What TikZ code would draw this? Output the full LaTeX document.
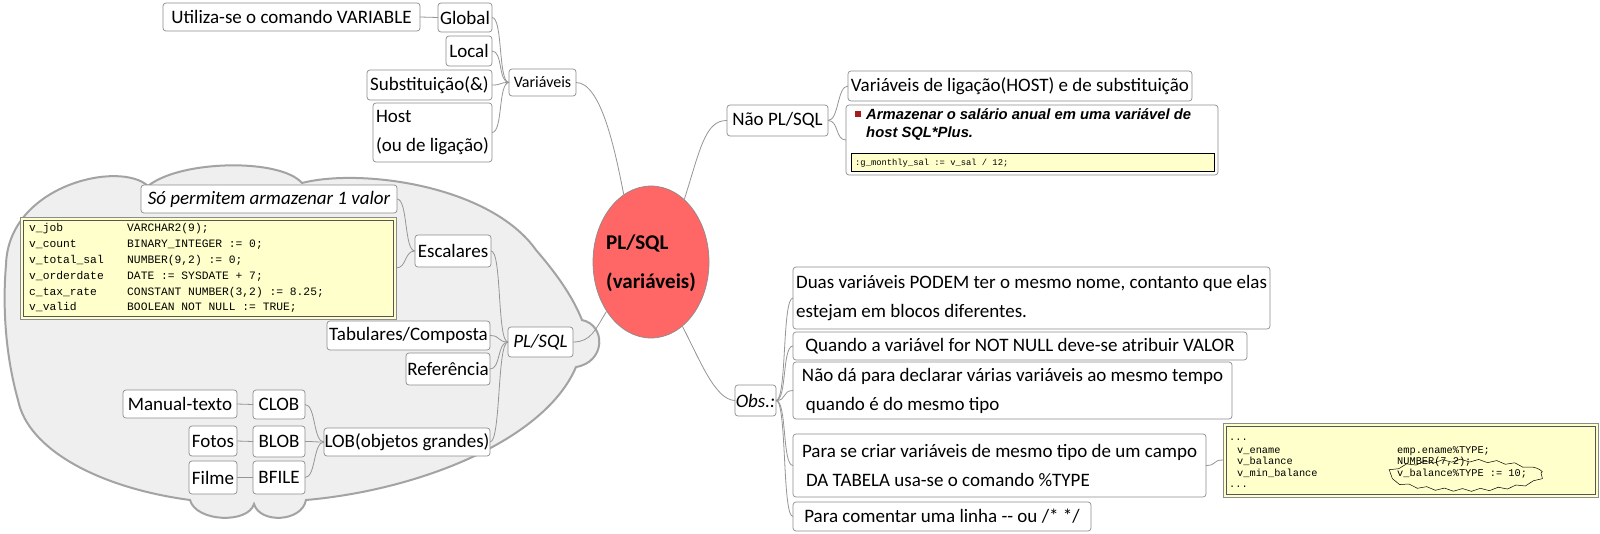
\documentclass[tikz,border=0pt]{standalone}
\usepackage{fontspec}
\usetikzlibrary{shapes.geometric,decorations.pathmorphing}
\newfontfamily\hwf{Carlito}
\newfontfamily\arf{Liberation Sans}
\newfontfamily\monof{Liberation Mono}
\definecolor{bgray}{HTML}{8C8C8C}
\definecolor{lgray}{HTML}{959595}
\definecolor{cloudfill}{HTML}{EFEFEF}
\definecolor{cloudline}{HTML}{A3A3A3}
\definecolor{codey}{HTML}{FFFFCC}
\definecolor{redc}{HTML}{FF6666}
\definecolor{bulletred}{HTML}{A51C1C}
\definecolor{innerline}{HTML}{555555}
\newcommand\hwn{\hwf\fontsize{19}{29}\selectfont}
\newcommand\hwi{\hwf\itshape\fontsize{19}{29}\selectfont}
\tikzset{
 box/.style={draw=bgray, fill=white, rounded corners=3pt, line width=0.7pt, inner sep=0pt, outer sep=0pt, font=\hwn, text=black},
 conn/.style={draw=lgray, line width=0.8pt},
 codebox/.style={draw=bgray, fill=codey, line width=0.7pt, inner sep=0pt, outer sep=0pt, anchor=north west},
 mono/.style={font=\monof\fontsize{11.3}{16}\selectfont, inner sep=0pt, anchor=base west},
 monos/.style={font=\monof\fontsize{10.3}{12}\selectfont, inner sep=0pt, anchor=base west},
}
\newcommand\BX[7][]{\node[box, minimum width={#5-#3}, minimum height={#6-#4}, anchor=north west, #1] (#2) at (#3,#4) {#7};}
\newcommand\LL[2]{\draw[conn] (#1.west) .. controls +(-11,0) and +(11,0) .. (#2.east);}
\newcommand\RL[2]{\draw[conn] (#1.east) .. controls +(11,0) and +(-11,0) .. (#2.west);}
\begin{document}
\begin{tikzpicture}[x=1pt,y=-1pt]
\fill[white] (0,0) rectangle (1600,533);
\useasboundingbox (0,0) rectangle (1600,533);

% cloud
\filldraw[fill=cloudfill, draw=cloudline, line width=2pt]
 (6,265) .. controls (8,185) and (120,160) .. (148,186)
 .. controls (180,160) and (280,158) .. (302,183)
 .. controls (360,168) and (490,185) .. (536,250)
 .. controls (555,272) and (572,295) .. (582,320)
 .. controls (606,325) and (606,362) .. (576,367)
 .. controls (545,440) and (420,490) .. (306,500)
 .. controls (302,522) and (260,524) .. (254,504)
 .. controls (248,524) and (196,522) .. (190,500)
 .. controls (100,488) and (28,450) .. (18,400)
 .. controls (4,350) and (3,300) .. cycle;

% central ellipse
\node[ellipse, draw=bgray, fill=redc, line width=0.7pt, minimum width=116, minimum height=152, inner sep=0pt] (center) at (651,262) {};
\node[font=\hwf\bfseries\fontsize{21}{39}\selectfont, align=left, inner sep=0pt] (centertxt) at (651,263) {PL/SQL\\(variáveis)};

% top-left branch
\BX{utiliza}{163}{3}{420}{31}{Utiliza-se o comando VARIABLE}
\BX{global}{438}{3}{492}{32}{Global}
\BX{local}{446}{36}{492}{66}{Local}
\BX{subst}{367}{70}{492}{100}{Substituição(\&)}
\BX[align=left]{host}{373}{103}{492}{162}{Host\\(ou de ligação)}
\BX[font=\hwf\fontsize{16}{20}\selectfont]{variaveis}{509}{69}{576}{96}{Variáveis}

% cloud contents
\BX[font=\hwi]{so}{141}{185}{397}{213}{Só permitem armazenar 1 valor}
\node[codebox, minimum width=376, minimum height=102] (codeL) at (20,217) {};
\draw[innerline, line width=0.6pt] ([shift={(3,3)}]codeL.north west) rectangle ([shift={(-3,-3)}]codeL.south east);
\node[mono] (l1a) at (29,231) {v\_job};        \node[mono] (l1b) at (127,231) {VARCHAR2(9);};
\node[mono] (l2a) at (29,247) {v\_count};      \node[mono] (l2b) at (127,247) {BINARY\_INTEGER := 0;};
\node[mono] (l3a) at (29,263) {v\_total\_sal}; \node[mono] (l3b) at (127,263) {NUMBER(9,2) := 0;};
\node[mono] (l4a) at (29,279) {v\_orderdate};  \node[mono] (l4b) at (127,279) {DATE := SYSDATE + 7;};
\node[mono] (l5a) at (29,295) {c\_tax\_rate};  \node[mono] (l5b) at (127,295) {CONSTANT NUMBER(3,2) := 8.25;};
\node[mono] (l6a) at (29,310) {v\_valid};      \node[mono] (l6b) at (127,310) {BOOLEAN NOT NULL := TRUE;};

\BX{escalares}{415}{235}{491}{267}{Escalares}
\BX{tabulares}{327}{321}{490}{350}{Tabulares/Composta}
\BX{referencia}{406}{353}{490}{385}{Referência}
\BX[font=\hwi]{plsql}{508}{327}{573}{357}{PL/SQL}
\BX{lob}{324}{428}{490}{456}{LOB(objetos grandes)}
\BX{clob}{253}{390}{305}{419}{CLOB}
\BX{blob}{253}{426}{305}{457}{BLOB}
\BX{bfile}{253}{461}{305}{494}{BFILE}
\BX{manual}{123}{390}{237}{418}{Manual-texto}
\BX{fotos}{189}{426}{237}{456}{Fotos}
\BX{filme}{189}{461}{237}{494}{Filme}

% right-top branch
\BX{naopl}{727}{105}{828}{136}{Não PL/SQL}
\BX{varlig}{848}{71}{1192}{101}{Variáveis de ligação(HOST) e de substituição}
\BX{armaz}{846}{105}{1218}{175}{}
\node[fill=bulletred, minimum size=6.5pt, inner sep=0pt] (bul) at (858,114) {};
\node[font=\arf\bfseries\itshape\fontsize{14.8}{18}\selectfont, inner sep=0pt, anchor=base west] (armt1) at (866,119) {Armazenar o salário anual em uma variável de};
\node[font=\arf\bfseries\itshape\fontsize{14.8}{18}\selectfont, inner sep=0pt, anchor=base west] (armt2) at (866,137) {host SQL*Plus.};
\node[draw=black, fill=codey, line width=0.6pt, minimum width=363, minimum height=18, anchor=north west, inner sep=0pt] (gcode) at (851,153) {};
\node[font=\monof\fontsize{8.8}{10}\selectfont, inner sep=0pt, anchor=base west] (gcodet) at (855,165) {:g\_monthly\_sal := v\_sal / 12;};

% right-bottom branch
\BX[font=\hwi]{obs}{735}{385}{776}{416}{Obs.:}
\BX[align=left]{duas}{793}{267}{1270}{329}{Duas variáveis PODEM ter o mesmo nome, contanto que elas\\estejam em blocos diferentes.}
\BX{quando}{793}{332}{1247}{360}{Quando a variável for NOT NULL deve-se atribuir VALOR}
\BX[align=left]{naoda}{793}{362}{1232}{419}{Não dá para declarar várias variáveis ao mesmo tempo\\\hspace*{4pt}quando é do mesmo tipo}
\BX[align=left]{paracriar}{793}{434}{1206}{497}{Para se criar variáveis de mesmo tipo de um campo\\\hspace*{4pt}DA TABELA usa-se o comando \%TYPE}
\BX{paracom}{793}{502}{1091}{531}{Para comentar uma linha -{}- ou /* */}

\node[codebox, minimum width=375, minimum height=74] (codeR) at (1223,423) {};
\draw[innerline, line width=0.6pt] ([shift={(3,3)}]codeR.north west) rectangle ([shift={(-3,-3)}]codeR.south east);
\node[monos] (r0) at (1229,440) {...};
\node[monos] (r1a) at (1237,453) {v\_ename};       \node[monos] (r1b) at (1397,453) {emp.ename\%TYPE;};
\node[monos] (r2a) at (1237,464) {v\_balance};     \node[monos] (r2b) at (1397,464) {NUMBER(7,2);};
\node[monos] (r3a) at (1237,476) {v\_min\_balance}; \node[monos] (r3b) at (1397,476) {v\_balance\%TYPE := 10;};
\node[monos] (r4) at (1229,487) {...};
\draw[decorate, decoration={snake, amplitude=1.4pt, segment length=18pt}, line width=0.5pt] (1465,473) ellipse (76 and 14);

% connectors
\draw[conn] (utiliza.east) .. controls +(9,0) and +(-9,0) .. (global.west);
\LL{variaveis}{global}
\LL{variaveis}{local}
\LL{variaveis}{subst}
\LL{variaveis}{host}
\draw[conn] (variaveis.east) .. controls +(25,0) and (615,150) .. (center.112);
\draw[conn] (center.62) .. controls (700,150) and (705,120) .. (naopl.west);
\draw[conn] (plsql.east) .. controls +(18,0) and (595,330) .. (center.228);
\draw[conn] (center.296) .. controls (700,360) and (715,400) .. (obs.west);
\RL{naopl}{varlig}
\RL{naopl}{armaz}
\RL{obs}{duas}
\RL{obs}{quando}
\RL{obs}{naoda}
\RL{obs}{paracriar}
\RL{obs}{paracom}
\RL{paracriar}{codeR}
\LL{plsql}{escalares}
\LL{plsql}{tabulares}
\LL{plsql}{referencia}
\LL{plsql}{lob}
\LL{escalares}{so}
\LL{escalares}{codeL}
\LL{lob}{clob}
\LL{lob}{blob}
\LL{lob}{bfile}
\draw[conn] (clob.west) .. controls +(-8,0) and +(8,0) .. (manual.east);
\draw[conn] (blob.west) .. controls +(-8,0) and +(8,0) .. (fotos.east);
\draw[conn] (bfile.west) .. controls +(-8,0) and +(8,0) .. (filme.east);
\end{tikzpicture}
\end{document}
